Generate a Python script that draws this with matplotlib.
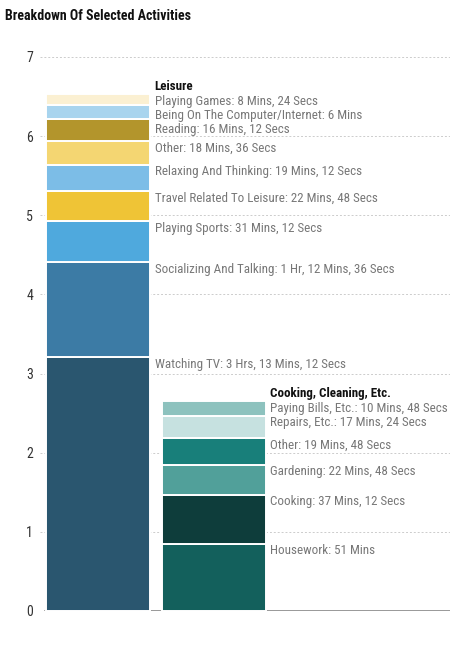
import matplotlib
matplotlib.use("Agg")
from matplotlib import pyplot as plt

# Leisure stack, bottom to top (hours)
leisure_names = ["Watching TV: 3 Hrs, 13 Mins, 12 Secs",
                 "Socializing And Talking: 1 Hr, 12 Mins, 36 Secs",
                 "Playing Sports: 31 Mins, 12 Secs",
                 "Travel Related To Leisure: 22 Mins, 48 Secs",
                 "Relaxing And Thinking: 19 Mins, 12 Secs",
                 "Other: 18 Mins, 36 Secs",
                 "Reading: 16 Mins, 12 Secs",
                 "Being On The Computer/Internet: 6 Mins",
                 "Playing Games: 8 Mins, 24 Secs"]
leisure_vals = [3.21, 1.20, 0.52, 0.38, 0.33, 0.30, 0.28, 0.17, 0.14]
leisure_colors = ["#2a566f", "#3c7ba5", "#4fa9dd", "#efc436", "#7cbde7",
                  "#f4d672", "#b3952c", "#a8d4ee", "#fbf0d2"]

# Cooking, cleaning stack, bottom to top (hours)
cooking_names = ["Housework: 51 Mins",
                 "Cooking: 37 Mins, 12 Secs",
                 "Gardening: 22 Mins, 48 Secs",
                 "Other: 19 Mins, 48 Secs",
                 "Repairs, Etc.: 17 Mins, 24 Secs",
                 "Paying Bills, Etc.: 10 Mins, 48 Secs"]
cooking_vals = [0.85, 0.62, 0.38, 0.33, 0.29, 0.18]
cooking_colors = ["#13605c", "#0e3d3b", "#51a09a", "#187f7a", "#c6e1e0", "#8dc2be"]

groups = ["Leisure", "Cooking, Cleaning, Etc."]
yticks = [0, 1, 2, 3, 4, 5, 6, 7]

plt.rcParams["font.family"] = ["Roboto Condensed", "Liberation Sans Narrow", "DejaVu Sans"]

fig = plt.figure(figsize=(4.62, 6.5), dpi=100)
ax = fig.add_axes([40 / 462, 1 - 611 / 650, 410 / 462, (611 - 57) / 650])

ymax = 7
min_gap = ymax * 14 / 554  # keep labels ~14px apart
width = 0.9
stacks = [(leisure_names, leisure_vals, leisure_colors),
          (cooking_names, cooking_vals, cooking_colors)]
for i, (names, vals, colors) in enumerate(stacks):
    bottom = 0
    tops = []
    for v, c in zip(vals, colors):
        ax.bar(i, v, width=width, bottom=bottom, color=c, edgecolor="white",
               linewidth=1.4, zorder=3)
        bottom += v
        tops.append(bottom)

    # push labels down from the top so they don't collide
    label_y = list(tops)
    for k in range(len(label_y) - 2, -1, -1):
        label_y[k] = min(label_y[k], label_y[k + 1] - min_gap)

    for name, y in zip(names, label_y):
        ax.annotate(name, (i + width / 2, y), xytext=(3, -0.5),
                    textcoords="offset points", ha="left", va="top",
                    fontsize=9.4, color="#777777", zorder=4)
    ax.annotate(groups[i], (i + width / 2, tops[-1]), xytext=(3, 10.5),
                textcoords="offset points", ha="left", va="top",
                fontsize=9.4, fontweight="bold", color="#111111", zorder=4)

ax.axhline(0, xmin=5 / 410, color="#888888", lw=1.2, zorder=2)

ax.set_xlim(-0.505, 3.04)
ax.set_ylim(0, ymax)
ax.set_yticks(yticks)
ax.set_xticks([])
ax.yaxis.grid(True, linestyle=(0, (2, 2)), color="#cccccc", linewidth=0.7, zorder=0)
ax.set_axisbelow(True)
ax.tick_params(axis="y", length=0, pad=5, labelsize=10, labelcolor="#333333")
for s in ax.spines.values():
    s.set_visible(False)

fig.text(5 / 462, 1 - 16 / 650, "Breakdown Of Selected Activities",
         fontsize=10, fontweight="bold", color="#111111", ha="left", va="center")

fig.savefig("out.png", dpi=100)
